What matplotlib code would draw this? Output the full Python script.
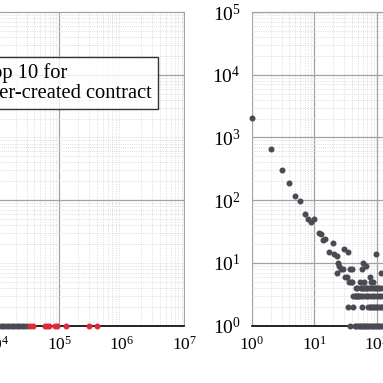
import numpy as np
import matplotlib
matplotlib.use("Agg")
import matplotlib.pyplot as plt
from matplotlib.ticker import LogLocator, LogFormatterSciNotation, NullFormatter

plt.rcParams['font.family'] = ['Liberation Serif', 'DejaVu Serif']
plt.rcParams['mathtext.fontset'] = 'stix'

# ---------------- data ----------------
# left panel: contracts (x = value, y = count)
left_other_x = [11000, 12000, 13000, 14500, 16000, 17500, 19000, 21000, 23000, 25000, 27500, 30000]
left_other_y = [1] * len(left_other_x)
left_top10_x = [34000, 37600, 59000, 63000, 69000, 85000, 91000, 126000, 301000, 395000]
left_top10_y = [1] * len(left_top10_x)

# right panel: frequency distribution
right_x = [1, 2, 3, 4, 5, 6, 7, 8, 9, 10,
           12, 13, 14, 15, 17, 20, 21, 23, 24, 25, 23, 27, 29, 30, 34, 37, 40,
           31, 33, 58, 60, 68, 78, 98, 116,
           36, 38, 40, 54, 62, 80, 88,
           46, 48, 55, 58, 61, 64, 67, 70, 74, 80, 86, 92, 98, 104, 110, 118,
           42, 44, 46, 48, 50, 52, 55, 60, 66, 70, 75, 82, 90, 100, 108, 118,
           35, 42, 57, 73, 77, 81, 86, 91, 96, 102, 108, 115, 122,
           37, 45, 47, 50, 53, 56, 59, 62, 65, 69, 73, 77, 82, 87, 92, 98, 104, 110, 117, 124]
right_y = [2050, 660, 300, 189, 117, 97, 60, 51, 45, 50,
           30, 29, 23, 24, 15, 21, 14, 13, 10, 9, 7, 8, 8, 17, 15, 8, 8,
           6, 6, 8, 10, 9, 6, 14, 7,
           5, 5, 5, 5, 5, 5, 5,
           4, 4, 4, 4, 4, 4, 4, 4, 4, 4, 4, 4, 4, 4, 4, 4,
           3, 3, 3, 3, 3, 3, 3, 3, 3, 3, 3, 3, 3, 3, 3, 3,
           2, 2, 2, 2, 2, 2, 2, 2, 2, 2, 2, 2, 2,
           1, 1, 1, 1, 1, 1, 1, 1, 1, 1, 1, 1, 1, 1, 1, 1, 1, 1, 1, 1]

legend_label = "Top 10 for\nuser-created contract"

# ---------------- layout ----------------
W = H = 383.0
fig = plt.figure(figsize=(3.83, 3.83), dpi=100)
fig.patch.set_facecolor('white')

dec = 62.6            # px per decade
bottom_px, top_px = 325.7, 12.0
b = 1 - bottom_px / H
h = (bottom_px - top_px) / H

ax1_right = 184.5
ax1_left = ax1_right - 7 * dec
ax1 = fig.add_axes([ax1_left / W, b, (ax1_right - ax1_left) / W, h])

ax2_left = 251.7
ax2 = fig.add_axes([ax2_left / W, b, 3 * dec / W, h])

grey = '#4a4a52'
red = '#e02a3c'
major_c = '#a2a2a2'
minor_c = '#d2d2d2'

for ax in (ax1, ax2):
    ax.set_xscale('log')
    ax.set_yscale('log')
    ax.set_ylim(1, 1e5)
    ax.spines['left'].set_visible(False)
    ax.spines['right'].set_visible(False)
    ax.spines['top'].set_color(major_c)
    ax.spines['top'].set_linewidth(0.9)
    ax.spines['bottom'].set_color('black')
    ax.spines['bottom'].set_linewidth(1.2)
    ax.xaxis.set_major_locator(LogLocator(base=10, numticks=20))
    ax.xaxis.set_major_formatter(LogFormatterSciNotation())
    ax.xaxis.set_minor_locator(LogLocator(base=10, subs=np.arange(2, 10), numticks=20))
    ax.xaxis.set_minor_formatter(NullFormatter())
    ax.yaxis.set_minor_locator(LogLocator(base=10, subs=np.arange(2, 10), numticks=20))
    ax.yaxis.set_minor_formatter(NullFormatter())
    ax.tick_params(which='both', length=0)
    ax.tick_params(axis='x', labelsize=12.5, pad=7)
    ax.tick_params(axis='y', labelsize=14, pad=8)
    ax.set_axisbelow(True)

# left panel
ax1.set_xlim(1, 1e7)
ax1.yaxis.set_major_locator(LogLocator(base=100, numticks=10))
ax1.yaxis.set_minor_locator(LogLocator(base=10, subs=np.arange(1, 10), numticks=20))
ax1.grid(True, which='minor', color=minor_c, linestyle=':', linewidth=0.6)
ax1.grid(True, which='major', axis='y', color=major_c, linestyle='-', linewidth=0.9)
for v in 10.0 ** np.arange(1, 8, 2):
    ax1.axvline(v, color=major_c, linewidth=0.9, zorder=0.5)

ax1.plot(left_other_x, left_other_y, 'o', color=grey, markersize=3.3,
         linestyle='none', clip_on=False, zorder=3)
ax1.plot(left_top10_x, left_top10_y, 'o', color=red, markersize=3.3,
         linestyle='none', clip_on=False, zorder=4, label=legend_label)

leg = ax1.legend(loc='upper right', bbox_to_anchor=(158 / W, 1 - 57 / H),
                 bbox_transform=fig.transFigure, fontsize=14.8, frameon=True,
                 fancybox=False, borderpad=0.28, handletextpad=0.5,
                 borderaxespad=0)
leg.get_frame().set_edgecolor('black')
leg.get_frame().set_linewidth(1.0)
for t in leg.get_texts():
    t.set_linespacing(1.1)

# right panel
ax2.set_xlim(1, 1e3)
ax2.grid(True, which='minor', color=minor_c, linestyle=':', linewidth=0.6)
ax2.grid(True, which='major', color=major_c, linestyle='-', linewidth=0.9)
ax2.plot(right_x, right_y, 'o', color=grey, markersize=3.3,
         linestyle='none', clip_on=False, zorder=3)

fig.savefig('out.png', dpi=100, facecolor='white')
